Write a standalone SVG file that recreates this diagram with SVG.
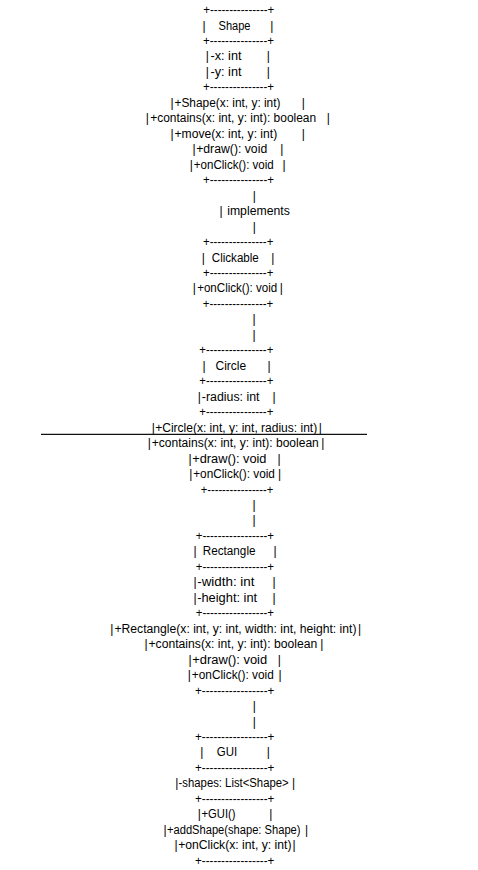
<svg xmlns="http://www.w3.org/2000/svg" width="478" height="870" viewBox="0 0 478 870">
<style>
text{font-family:"Liberation Sans",Arial,sans-serif;font-size:12px;fill:#000}
.p{text-anchor:middle}
</style>
<rect width="478" height="870" fill="#fff"/>
<g id="Shape">
<text x="203.3" y="14" textLength="71" lengthAdjust="spacingAndGlyphs">+---------------+</text>
<text class="p" x="204" y="29.5">|</text><text x="218.5" y="29.5" textLength="32" lengthAdjust="spacingAndGlyphs">Shape</text><text class="p" x="271.7" y="29.5">|</text>
<text x="203" y="44.9" textLength="71" lengthAdjust="spacingAndGlyphs">+---------------+</text>
<text class="p" x="207.3" y="60.4">|</text><text x="210.5" y="60.4" textLength="31" lengthAdjust="spacingAndGlyphs">-x: int</text><text class="p" x="268.3" y="60.4">|</text>
<text class="p" x="207.3" y="75.9">|</text><text x="210.5" y="75.9" textLength="31" lengthAdjust="spacingAndGlyphs">-y: int</text><text class="p" x="268.3" y="75.9">|</text>
<text x="203" y="91.3" textLength="71" lengthAdjust="spacingAndGlyphs">+---------------+</text>
<text class="p" x="172" y="106.8">|</text><text x="174.5" y="106.8" textLength="106" lengthAdjust="spacingAndGlyphs">+Shape(x: int, y: int)</text><text class="p" x="303.3" y="106.8">|</text>
<text class="p" x="147.3" y="122.3">|</text><text x="150.2" y="122.3" textLength="166" lengthAdjust="spacingAndGlyphs">+contains(x: int, y: int): boolean</text><text class="p" x="328.3" y="122.3">|</text>
<text class="p" x="172" y="137.7">|</text><text x="174.5" y="137.7" textLength="102.7" lengthAdjust="spacingAndGlyphs">+move(x: int, y: int)</text><text class="p" x="303.3" y="137.7">|</text>
<text class="p" x="194" y="153.2">|</text><text x="196.2" y="153.2" textLength="71" lengthAdjust="spacingAndGlyphs">+draw(): void</text><text class="p" x="281.7" y="153.2">|</text>
<text class="p" x="191.3" y="168.7">|</text><text x="193.8" y="168.7" textLength="80" lengthAdjust="spacingAndGlyphs">+onClick(): void</text><text class="p" x="284" y="168.7">|</text>
<text x="203" y="184.1" textLength="71" lengthAdjust="spacingAndGlyphs">+---------------+</text>
</g>
<g id="Clickable">
<text x="203" y="246" textLength="70.3" lengthAdjust="spacingAndGlyphs">+---------------+</text>
<text class="p" x="203.3" y="261.5">|</text><text x="211.8" y="261.5" textLength="47" lengthAdjust="spacingAndGlyphs">Clickable</text><text class="p" x="272.7" y="261.5">|</text>
<text x="203" y="276.9" textLength="70.3" lengthAdjust="spacingAndGlyphs">+---------------+</text>
<text class="p" x="194.3" y="292.4">|</text><text x="197.2" y="292.4" textLength="80" lengthAdjust="spacingAndGlyphs">+onClick(): void</text><text class="p" x="281.2" y="292.4">|</text>
<text x="202.7" y="307.9" textLength="70.6" lengthAdjust="spacingAndGlyphs">+---------------+</text>
</g>
<g id="Circle">
<text x="199.3" y="354.3" textLength="74" lengthAdjust="spacingAndGlyphs">+----------------+</text>
<text class="p" x="204" y="369.7">|</text><text x="215.5" y="369.7" textLength="30.7" lengthAdjust="spacingAndGlyphs">Circle</text><text class="p" x="269" y="369.7">|</text>
<text x="199.3" y="385.2" textLength="74" lengthAdjust="spacingAndGlyphs">+----------------+</text>
<text class="p" x="199.3" y="400.7">|</text><text x="201.8" y="400.7" textLength="57.7" lengthAdjust="spacingAndGlyphs">-radius: int</text><text class="p" x="274" y="400.7">|</text>
<text x="199.3" y="416.1" textLength="74" lengthAdjust="spacingAndGlyphs">+----------------+</text>
<text class="p" x="153.3" y="431.6">|</text><text x="155.2" y="431.6" textLength="162" lengthAdjust="spacingAndGlyphs">+Circle(x: int, y: int, radius: int)</text><text class="p" x="320.2" y="431.6">|</text>
<text class="p" x="149.3" y="447.1">|</text><text x="151.8" y="447.1" textLength="167" lengthAdjust="spacingAndGlyphs">+contains(x: int, y: int): boolean</text><text class="p" x="322.7" y="447.1">|</text>
<text class="p" x="190" y="462.5">|</text><text x="192.2" y="462.5" textLength="74.3" lengthAdjust="spacingAndGlyphs">+draw(): void</text><text class="p" x="279" y="462.5">|</text>
<text class="p" x="190.7" y="478">|</text><text x="193.2" y="478" textLength="81.7" lengthAdjust="spacingAndGlyphs">+onClick(): void</text><text class="p" x="279.5" y="478">|</text>
<text x="200.7" y="493.5" textLength="72.6" lengthAdjust="spacingAndGlyphs">+----------------+</text>
</g>
<g id="Rectangle">
<text x="195.7" y="539.9" textLength="78.3" lengthAdjust="spacingAndGlyphs">+-----------------+</text>
<text class="p" x="195" y="555.3">|</text><text x="202.8" y="555.3" textLength="52.7" lengthAdjust="spacingAndGlyphs">Rectangle</text><text class="p" x="275" y="555.3">|</text>
<text x="195.7" y="570.8" textLength="78.3" lengthAdjust="spacingAndGlyphs">+-----------------+</text>
<text class="p" x="195" y="586.3">|</text><text x="197.2" y="586.3" textLength="57.3" lengthAdjust="spacingAndGlyphs">-width: int</text><text class="p" x="274" y="586.3">|</text>
<text class="p" x="195" y="601.7">|</text><text x="197.2" y="601.7" textLength="60" lengthAdjust="spacingAndGlyphs">-height: int</text><text class="p" x="274" y="601.7">|</text>
<text x="195.7" y="617.2" textLength="78.3" lengthAdjust="spacingAndGlyphs">+-----------------+</text>
<text class="p" x="111.7" y="632.7">|</text><text x="114.5" y="632.7" textLength="242" lengthAdjust="spacingAndGlyphs">+Rectangle(x: int, y: int, width: int, height: int)</text><text class="p" x="359.5" y="632.7">|</text>
<text class="p" x="146" y="648.1">|</text><text x="148.5" y="648.1" textLength="168.7" lengthAdjust="spacingAndGlyphs">+contains(x: int, y: int): boolean</text><text class="p" x="321.7" y="648.1">|</text>
<text class="p" x="190" y="663.6">|</text><text x="192.2" y="663.6" textLength="75" lengthAdjust="spacingAndGlyphs">+draw(): void</text><text class="p" x="279.3" y="663.6">|</text>
<text class="p" x="189.3" y="679.1">|</text><text x="191.8" y="679.1" textLength="82" lengthAdjust="spacingAndGlyphs">+onClick(): void</text><text class="p" x="280" y="679.1">|</text>
<text x="195" y="694.5" textLength="79.3" lengthAdjust="spacingAndGlyphs">+-----------------+</text>
</g>
<g id="GUI">
<text x="195" y="740.9" textLength="79.3" lengthAdjust="spacingAndGlyphs">+-----------------+</text>
<text class="p" x="201.7" y="756.4">|</text><text x="216.8" y="756.4" textLength="20.4" lengthAdjust="spacingAndGlyphs">GUI</text><text class="p" x="268.3" y="756.4">|</text>
<text x="195" y="771.9" textLength="79.3" lengthAdjust="spacingAndGlyphs">+-----------------+</text>
<text class="p" x="176.7" y="787.3">|</text><text x="178.6" y="787.3" textLength="110" lengthAdjust="spacingAndGlyphs">-shapes: List&lt;Shape&gt;</text><text class="p" x="293.6" y="787.3">|</text>
<text x="195" y="802.8" textLength="79.3" lengthAdjust="spacingAndGlyphs">+-----------------+</text>
<text class="p" x="199.3" y="818.3">|</text><text x="201.5" y="818.3" textLength="34" lengthAdjust="spacingAndGlyphs">+GUI()</text><text class="p" x="270.7" y="818.3">|</text>
<text class="p" x="165" y="833.7">|</text><text x="167" y="833.7" textLength="133.5" lengthAdjust="spacingAndGlyphs">+addShape(shape: Shape)</text><text class="p" x="306.6" y="833.7">|</text>
<text class="p" x="176" y="849.2">|</text><text x="178.2" y="849.2" textLength="113.3" lengthAdjust="spacingAndGlyphs">+onClick(x: int, y: int)</text><text class="p" x="294" y="849.2">|</text>
<text x="195" y="864.7" textLength="79.3" lengthAdjust="spacingAndGlyphs">+-----------------+</text>
</g>
<g id="connectors">
<text class="p" x="254.3" y="199.6">|</text>
<text class="p" x="221" y="215.1">|</text><text x="227.2" y="215.1" textLength="62.6" lengthAdjust="spacingAndGlyphs">implements</text>
<text class="p" x="254.3" y="230.5">|</text>
<text class="p" x="254" y="323.3">|</text>
<text class="p" x="254" y="338.8">|</text>
<text class="p" x="254" y="508.9">|</text>
<text class="p" x="254" y="524.4">|</text>
<text class="p" x="254.3" y="710">|</text>
<text class="p" x="254.3" y="725.5">|</text>
</g>
<line x1="41" y1="434.3" x2="367" y2="434.3" stroke="#111" stroke-width="1.3"/>
</svg>
